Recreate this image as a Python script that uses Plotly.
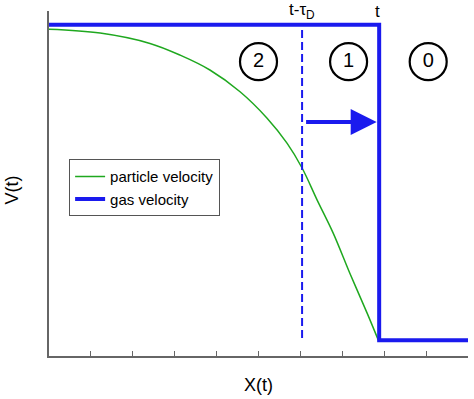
import plotly.graph_objects as go

# particle velocity curve
particle_x = [0.0, 1.22, 2.41, 3.13, 3.84, 4.56, 5.2, 5.68, 6.04, 6.4, 6.78, 7.18, 7.59, 7.86]
particle_v = [0.947, 0.936, 0.906, 0.872, 0.829, 0.766, 0.69, 0.617, 0.545, 0.452, 0.357, 0.24, 0.125, 0.046]

# gas velocity step
gas_x = [0.0, 7.88, 7.88, 10.0]
gas_v = [0.96, 0.96, 0.046, 0.046]

# delay line position
delay_x = [6.04, 6.04]
delay_v = [0.052, 0.96]

region_labels = ["2", "1", "0"]
region_x = [5.0, 7.15, 9.05]
region_v = [0.853, 0.853, 0.853]

x_ticks = list(range(0, 11))

FONT = "Liberation Sans, Arial"

fig = go.Figure()
fig.add_trace(go.Scatter(x=particle_x, y=particle_v, mode="lines", name="particle velocity",
                         line=dict(color="#1fa81f", width=1.5, shape="spline")))
fig.add_trace(go.Scatter(x=gas_x, y=gas_v, mode="lines", name="gas velocity",
                         line=dict(color="#1a1aee", width=4)))
fig.add_trace(go.Scatter(x=delay_x, y=delay_v, mode="lines", showlegend=False,
                         line=dict(color="#1a1aee", width=2, dash="8px,4px")))
fig.add_trace(go.Scatter(x=region_x, y=region_v, mode="markers+text", text=region_labels,
                         textposition="middle center", showlegend=False,
                         textfont=dict(family=FONT, size=20, color="black"),
                         marker=dict(symbol="circle", size=37, color="rgba(0,0,0,0)",
                                     line=dict(color="black", width=2.2))))

# arrow
fig.add_annotation(x=7.82, y=0.678, ax=6.1, ay=0.678, xref="x", yref="y", axref="x", ayref="y",
                   text="", showarrow=True, arrowhead=2, arrowsize=1.3, arrowwidth=4,
                   arrowcolor="#1a1aee")

fig.add_annotation(x=6.04, y=1.0, xref="x", yref="paper", text="t-τ<sub>D</sub>", showarrow=False,
                   yanchor="middle", font=dict(family=FONT, size=17, color="black"))
fig.add_annotation(x=7.85, y=1.0, xref="x", yref="paper", text="t", showarrow=False,
                   yanchor="middle", font=dict(family=FONT, size=17, color="black"))
fig.add_annotation(x=0.5, y=-0.085, xref="paper", yref="paper", text="X(t)", showarrow=False,
                   yanchor="middle", font=dict(family=FONT, size=18, color="black"))
fig.add_annotation(x=-0.088, y=0.48, xref="paper", yref="paper", text="V(t)", showarrow=False,
                   textangle=-90, xanchor="center", yanchor="middle",
                   font=dict(family=FONT, size=18, color="black"))

fig.update_xaxes(range=[0, 10], tickvals=x_ticks, showticklabels=False, ticks="inside",
                 ticklen=5, tickcolor="#666", tickwidth=1, showline=True, linecolor="#666",
                 linewidth=1.5, showgrid=False, zeroline=False)
fig.update_yaxes(range=[0, 1], showticklabels=False, ticks="", showline=True,
                 linecolor="#666", linewidth=1.5, showgrid=False, zeroline=False)

fig.update_layout(
    width=474, height=399,
    margin=dict(l=49, r=6, t=11, b=43),
    plot_bgcolor="white", paper_bgcolor="white",
    legend=dict(x=0.048, y=0.57, xanchor="left", yanchor="top",
                bordercolor="#555", borderwidth=1, bgcolor="white",
                font=dict(family=FONT, size=15, color="black"),
                tracegroupgap=0, itemwidth=30),
)

fig.write_html("out.html", config={"displayModeBar": False},
               post_script="document.body.style.margin='0';")
